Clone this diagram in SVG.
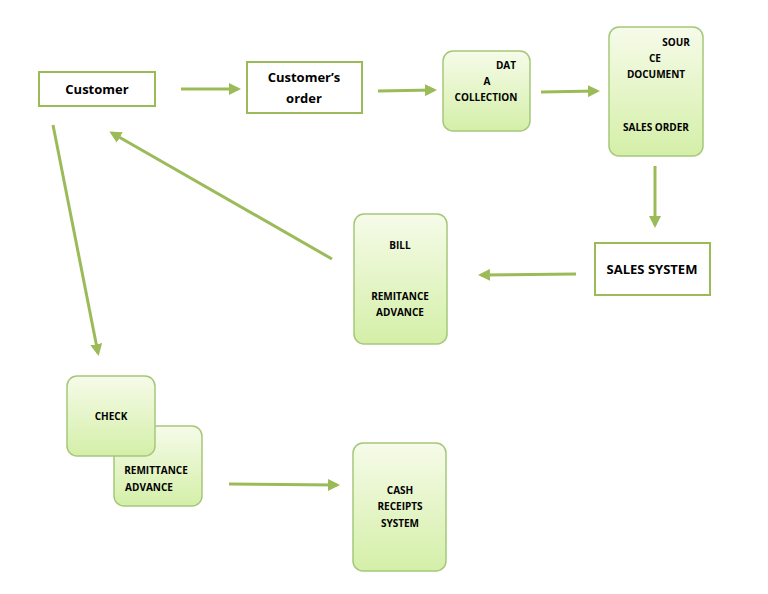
<svg xmlns="http://www.w3.org/2000/svg" width="768" height="594" viewBox="0 0 768 594">
<defs>
<linearGradient id="g" x1="0" y1="0" x2="0" y2="1"><stop offset="0" stop-color="#f6fbe9"/><stop offset="1" stop-color="#d4efa8"/></linearGradient>
<marker id="a" markerWidth="4" markerHeight="4" refX="3" refY="2" orient="auto" markerUnits="strokeWidth"><path d="M0,0L4,2L0,4z" fill="#9bbb59"/></marker>
</defs>
<style>
.r{fill:url(#g);stroke:#a5c77a;stroke-width:1.5}
.b{fill:#fff;stroke:#9bbb59;stroke-width:2}
.c line{stroke:#9bbb59;stroke-width:3;marker-end:url(#a)}
text{font-family:"Open Sans","Liberation Sans",sans-serif;font-weight:bold;font-size:10px;fill:#000;text-anchor:middle}
.l{font-size:13px}
</style>
<rect width="768" height="594" fill="#fff"/>
<g class="c">
<line x1="181" y1="89" x2="238" y2="89"/>
<line x1="378" y1="91" x2="434" y2="90"/>
<line x1="541" y1="92" x2="597" y2="91"/>
<line x1="655" y1="166" x2="655" y2="225"/>
<line x1="576" y1="274" x2="481" y2="275"/>
<line x1="332" y1="259" x2="112" y2="133"/>
<line x1="53" y1="125" x2="98" y2="353"/>
<line x1="229" y1="484" x2="337" y2="485"/>
</g>
<g id="customer"><rect class="b" x="39" y="72" width="116" height="34"/><text class="l" x="97" y="94">Customer</text></g>
<g id="order"><rect class="b" x="247" y="62" width="115" height="51"/><text class="l" x="304" y="82">Customer’s</text><text class="l" x="304" y="103">order</text></g>
<g id="data"><rect class="r" x="443" y="51" width="87" height="80" rx="10"/><text x="506" y="69">DAT</text><text x="487" y="85">A</text><text x="486" y="101">COLLECTION</text></g>
<g id="source"><rect class="r" x="609" y="27" width="94" height="129" rx="10"/><text x="676" y="46">SOUR</text><text x="655" y="62">CE</text><text x="656" y="78">DOCUMENT</text><text x="656" y="131">SALES ORDER</text></g>
<g id="sales"><rect class="b" x="595" y="243" width="115" height="52"/><text class="l" x="652" y="274">SALES SYSTEM</text></g>
<g id="bill"><rect class="r" x="354" y="214" width="93" height="130" rx="10"/><text x="400" y="249">BILL</text><text x="400" y="300">REMITANCE</text><text x="400" y="316">ADVANCE</text></g>
<g id="remit"><rect class="r" x="114" y="426" width="88" height="80" rx="10"/><text x="156" y="474">REMITTANCE</text><text x="149" y="491">ADVANCE</text></g>
<g id="check"><rect class="r" x="67" y="376" width="88" height="80" rx="10"/><text x="111" y="420">CHECK</text></g>
<g id="cash"><rect class="r" x="353" y="443" width="93" height="128" rx="10"/><text x="400" y="494">CASH</text><text x="400" y="510">RECEIPTS</text><text x="400" y="527">SYSTEM</text></g>
</svg>
